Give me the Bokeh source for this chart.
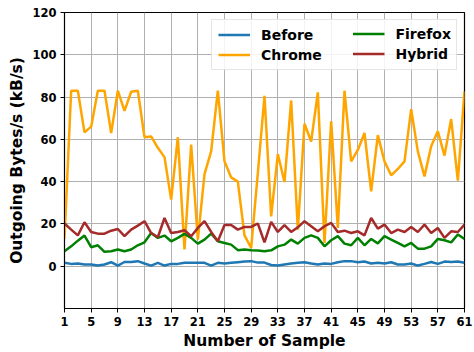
from bokeh.plotting import figure
from bokeh.models import Range1d, FixedTicker, Legend, LegendItem, ColumnDataSource
from bokeh.embed import file_html
from bokeh.resources import INLINE

samples = list(range(1, 62))

before = [1.6, 1.1, 1.3, 0.8, 0.8, 0.3, 0.8, 1.9, 0.3, 2.0,
          2.0, 2.4, 1.3, 0.3, 1.6, 0.3, 1.1, 1.1, 1.6, 1.6,
          1.6, 1.6, 0.3, 1.6, 1.3, 1.6, 1.9, 2.2, 2.4, 1.7,
          1.7, 0.6, 0.3, 0.8, 1.3, 1.6, 1.9, 1.3, 0.8, 1.3,
          1.1, 1.9, 2.4, 2.4, 1.9, 2.2, 1.3, 1.6, 1.3, 1.9,
          0.8, 0.8, 1.3, 0.3, 1.1, 2.0, 1.1, 2.2, 2.0, 2.2, 1.6]

chrome = [13.0, 83.0, 83.0, 63.3, 66.0, 83.0, 83.0, 63.0, 83.0, 73.5,
          82.5, 83.0, 61.0, 61.4, 56.0, 51.6, 31.5, 61.0, 7.9, 57.5,
          12.6, 43.6, 54.3, 83.0, 49.6, 42.0, 40.0, 14.6, 8.7, 44.0,
          80.6, 23.6, 53.0, 39.8, 78.4, 17.3, 67.4, 59.0, 82.2, 11.0,
          68.5, 18.1, 83.0, 49.6, 55.0, 63.0, 35.4, 62.0, 49.6, 43.0,
          46.0, 49.6, 74.3, 54.3, 42.5, 56.7, 63.8, 52.3, 69.6, 40.5, 82.7]

firefox = [7.1, 9.4, 12.1, 14.5, 9.0, 9.9, 6.8, 7.1, 7.9, 7.1,
           7.9, 9.9, 11.3, 15.7, 13.4, 14.5, 11.8, 13.4, 15.3, 13.4,
           10.7, 12.6, 15.4, 11.8, 11.0, 10.2, 7.6, 7.9, 7.6, 7.4,
           7.1, 7.5, 9.4, 10.2, 12.6, 10.7, 13.4, 14.6, 13.4, 9.4,
           12.3, 14.2, 10.7, 9.9, 13.4, 9.9, 12.9, 10.8, 14.2, 12.6,
           11.0, 9.4, 11.0, 8.3, 8.3, 9.4, 12.9, 12.3, 11.3, 15.0, 12.9]

hybrid = [20.2, 17.3, 14.6, 20.8, 16.2, 15.4, 15.4, 16.8, 17.6, 14.2,
          17.3, 19.2, 21.3, 15.7, 13.7, 22.8, 15.7, 16.2, 17.0, 14.2,
          18.1, 21.3, 16.2, 11.8, 19.5, 19.5, 17.3, 18.6, 18.6, 20.2,
          11.3, 21.0, 16.2, 19.4, 16.2, 18.4, 21.3, 18.9, 16.5, 18.9,
          20.5, 16.2, 16.8, 15.7, 16.5, 14.6, 22.8, 17.8, 19.7, 15.7,
          17.3, 16.2, 18.6, 16.2, 19.7, 15.7, 18.1, 13.4, 16.5, 16.2, 19.7]

series_names = ["Before", "Chrome", "Firefox", "Hybrid"]
series_values = [before, chrome, firefox, hybrid]
series_colors = ["#1f77b4", "#ffa500", "#008000", "#a52a2a"]

x_ticks = list(range(1, 62, 4))
y_ticks = [0, 20, 40, 60, 80, 100, 120]

FONT = "DejaVu Sans"

p = figure(width=474, height=352, output_backend="svg", toolbar_location=None,
           x_range=Range1d(1, 61), y_range=Range1d(-20, 120))
p.min_border_left = 64
p.min_border_right = 10
p.min_border_top = 12
p.min_border_bottom = 42
p.background_fill_color = "white"
p.border_fill_color = "white"
p.outline_line_color = "black"
p.outline_line_width = 1.2

renderers = []
for name, vals, col in zip(series_names, series_values, series_colors):
    src = ColumnDataSource(dict(x=samples, y=vals))
    r = p.line("x", "y", source=src, line_color=col, line_width=2.5)
    renderers.append(r)

p.xaxis.ticker = FixedTicker(ticks=x_ticks)
p.yaxis.ticker = FixedTicker(ticks=y_ticks)
for ax in (p.xaxis[0], p.yaxis[0]):
    ax.major_label_text_font = FONT
    ax.major_label_text_font_style = "bold"
    ax.major_label_text_font_size = "11.5px"
    ax.major_label_text_color = "black"
    ax.axis_label_text_font = FONT
    ax.axis_label_text_font_style = "bold"
    ax.axis_label_text_font_size = "15.5px"
    ax.axis_label_text_color = "black"
    ax.axis_line_color = "black"
    ax.major_tick_line_color = "black"
    ax.major_tick_out = 4
    ax.major_tick_in = 0
    ax.minor_tick_line_color = None
p.xaxis.axis_label = "Number of Sample"
p.yaxis.axis_label = "Outgoing Bytes/s (kB/s)"
p.xaxis.axis_label_standoff = 3
p.yaxis.axis_label_standoff = 3
p.xaxis.major_label_standoff = 4
p.yaxis.major_label_standoff = 4

p.xgrid.grid_line_color = "#b0b0b0"
p.ygrid.grid_line_color = "#b0b0b0"
p.xgrid.grid_line_width = 1
p.ygrid.grid_line_width = 1

def style_legend(lg):
    lg.label_text_font = FONT
    lg.label_text_font_style = "bold"
    lg.label_text_font_size = "14px"
    lg.label_text_color = "black"
    lg.glyph_width = 32
    lg.glyph_height = 17
    lg.label_height = 17
    lg.label_standoff = 11
    lg.spacing = 3
    lg.padding = 6
    lg.margin = 7
    lg.border_line_color = "#cccccc"
    lg.border_line_width = 1

items = [LegendItem(label=n, renderers=[r]) for n, r in zip(series_names, renderers)]

legend1 = Legend(items=items[:2], location="top_right")
style_legend(legend1)
legend1.label_width = 189
legend1.background_fill_color = "white"
legend1.background_fill_alpha = 0.85
p.add_layout(legend1)

legend2 = Legend(items=items[2:], location="top_right")
style_legend(legend2)
legend2.border_line_alpha = 0.0
legend2.background_fill_alpha = 0.0
p.add_layout(legend2)

open("out.html", "w").write(file_html(p, INLINE))
